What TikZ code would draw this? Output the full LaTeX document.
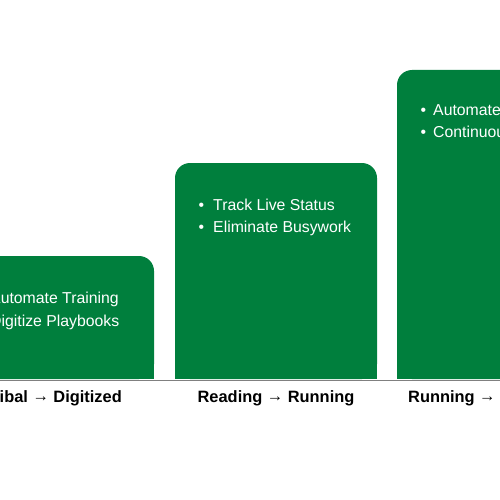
\documentclass[tikz,border=0pt]{standalone}
\usepackage{fontspec}
\setmainfont{Liberation Sans}
\definecolor{stagegreen}{RGB}{0,127,61}
\definecolor{basegray}{RGB}{128,128,128}
\tikzset{
  stage/.style={fill=stagegreen},
  point/.style={text=white, font=\fontsize{15.8}{18}\selectfont, anchor=west, inner sep=0pt},
  steplabel/.style={font=\bfseries\fontsize{16.4}{19}\selectfont, inner sep=0pt},
}
\newcommand{\stagearrow}{\raisebox{1.2pt}{→}}
\begin{document}
\begin{tikzpicture}[x=1pt, y=-1pt]
  \useasboundingbox (0,0) rectangle (500,500);
  \clip (0,0) rectangle (500,500);
  % Stage bars: rounded top, square foot
  \foreach \l/\t in {-48/256, 175/163, 397/70} {
    \fill[stage, rounded corners=15pt] (\l,\t) rectangle (\l+202,379);
    \fill[stage] (\l,\t+30) rectangle (\l+202,379);
  }
  % Baseline
  \coordinate (base west) at (0,380);
  \coordinate (base east) at (500,380);
  \draw[basegray, line width=1pt] (base west) -- (base east);
  % Bullet points
  \foreach \n/\l/\t/\gap/\first/\second in {
      tribal/-48/257/9/Automate Training/Digitize Playbooks,
      reading/175/163/9/Track Live Status/Eliminate Busywork,
      running/397/68/7/Automate Tasks/Continuous Improvement} {
    \node[point] (\n-a) at (\l+23.5,\t+42) {\textbullet\hspace{\gap pt}\first};
    \node[point] (\n-b) at (\l+23.5,\t+65) {\textbullet\hspace{\gap pt}\second};
  }
  % Stage labels
  \node[steplabel] (tribal) at (53,398) {Tribal \stagearrow{} Digitized};
  \node[steplabel] (reading) at (276,398) {Reading \stagearrow{} Running};
  \node[steplabel] (running) at (497,398) {Running \stagearrow{} Automated};
\end{tikzpicture}
\end{document}
